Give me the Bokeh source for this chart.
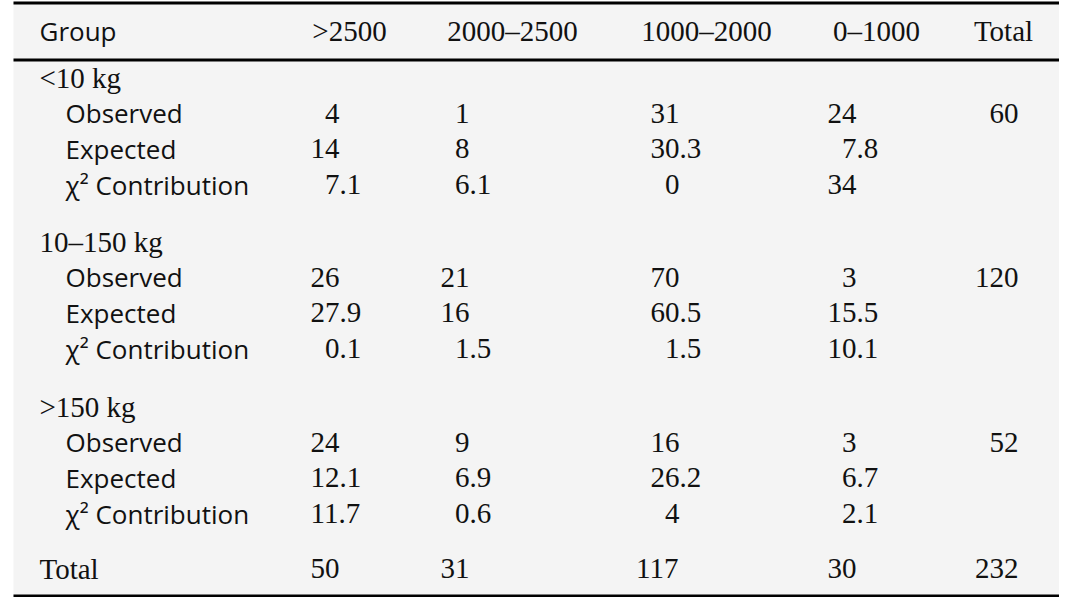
from bokeh.plotting import figure
from bokeh.models import Range1d, ColumnDataSource
from bokeh.core.properties import value
from bokeh.embed import file_html
from bokeh.resources import INLINE

# ---------------- data ----------------
columns = [">2500", "2000–2500", "1000–2000", "0–1000", "Total"]
groups = ["<10 kg", "10–150 kg", ">150 kg"]
row_labels = ["Observed", "Expected", "χ² Contribution"]
observed = [[4, 1, 31, 24], [26, 21, 70, 3], [24, 9, 16, 3]]
group_totals = [60, 120, 52]
expected = [[14, 8, 30.3, 7.8], [27.9, 16, 60.5, 15.5], [12.1, 6.9, 26.2, 6.7]]
chi2 = [[7.1, 6.1, 0, 34], [0.1, 1.5, 1.5, 10.1], [11.7, 0.6, 4, 2.1]]
column_totals = [50, 31, 117, 30, 232]

# ---------------- layout ----------------
W, H = 1059, 597
OX, OY = 1, 1
SERIF = "Liberation Serif"
SANS = "Open Sans"
SERIF_SIZE = 29
SANS_SIZE = 26
DIGIT_W = 0.5 * SERIF_SIZE          # Liberation Serif digits are 0.5 em
col_anchor = [340, 470, 680, 857, 1019]   # x where integer part ends
col_head_center = [350, 513, 707, 877, 1004]
header_y = 31
block_label_y = [78, 242, 407]
row_step = 35.7
total_y = 569
label_x, sub_x = 40, 66


def fmt(v):
    return f"{v:g}"


def num_x(s, j):
    return col_anchor[j] - len(s.split(".")[0]) * DIGIT_W


serif_left = dict(x=[], y=[], t=[])
serif_center = dict(x=[], y=[], t=[])
sans_left = dict(x=[], y=[], t=[])


def add_num(v, j, y):
    s = fmt(v)
    serif_left["x"].append(num_x(s, j))
    serif_left["y"].append(y)
    serif_left["t"].append(s)


# header
sans_left["x"].append(label_x); sans_left["y"].append(header_y); sans_left["t"].append("Group")
for j, c in enumerate(columns):
    serif_center["x"].append(col_head_center[j])
    serif_center["y"].append(header_y)
    serif_center["t"].append(c)

# blocks
for b, g in enumerate(groups):
    yb = block_label_y[b]
    serif_left["x"].append(label_x); serif_left["y"].append(yb); serif_left["t"].append(g)
    series = [observed[b], expected[b], chi2[b]]
    for r, lab in enumerate(row_labels):
        y = yb + (r + 1) * row_step
        sans_left["x"].append(sub_x); sans_left["y"].append(y); sans_left["t"].append(lab)
        for j, v in enumerate(series[r]):
            add_num(v, j, y)
        if r == 0:
            add_num(group_totals[b], 4, y)

# totals row
serif_left["x"].append(label_x); serif_left["y"].append(total_y); serif_left["t"].append("Total")
for j, v in enumerate(column_totals):
    add_num(v, j, total_y)

# ---------------- figure ----------------
p = figure(width=W, height=H, x_range=Range1d(OX, OX + W), y_range=Range1d(OY + H, OY),
           output_backend="svg", toolbar_location=None, min_border=0,
           x_axis_location=None, y_axis_location=None)
p.grid.visible = False
p.outline_line_color = None
p.background_fill_color = "white"
p.border_fill_color = "white"

# grey panel
p.quad(left=14, right=1060, top=2, bottom=598, fill_color="#f4f4f4", line_color=None)

# rules
p.segment(x0=[14, 14, 14], x1=[1060, 1060, 1060], y0=[3.5, 60.5, 596.5], y1=[3.5, 60.5, 596.5],
          line_color="black", line_width=3)

p.text(x="x", y="y", text="t", source=ColumnDataSource(serif_left),
       text_font=value(SERIF), text_font_size=f"{SERIF_SIZE}px",
       text_align="left", text_baseline="alphabetic", text_color="#111111")
p.text(x="x", y="y", text="t", source=ColumnDataSource(serif_center),
       text_font=value(SERIF), text_font_size=f"{SERIF_SIZE}px",
       text_align="center", text_baseline="alphabetic", text_color="#111111")
p.text(x="x", y="y", text="t", source=ColumnDataSource(sans_left),
       text_font=value(SANS), text_font_size=f"{SANS_SIZE}px",
       text_align="left", text_baseline="alphabetic", text_color="#111111")

open("out.html", "w").write(file_html(p, INLINE))
